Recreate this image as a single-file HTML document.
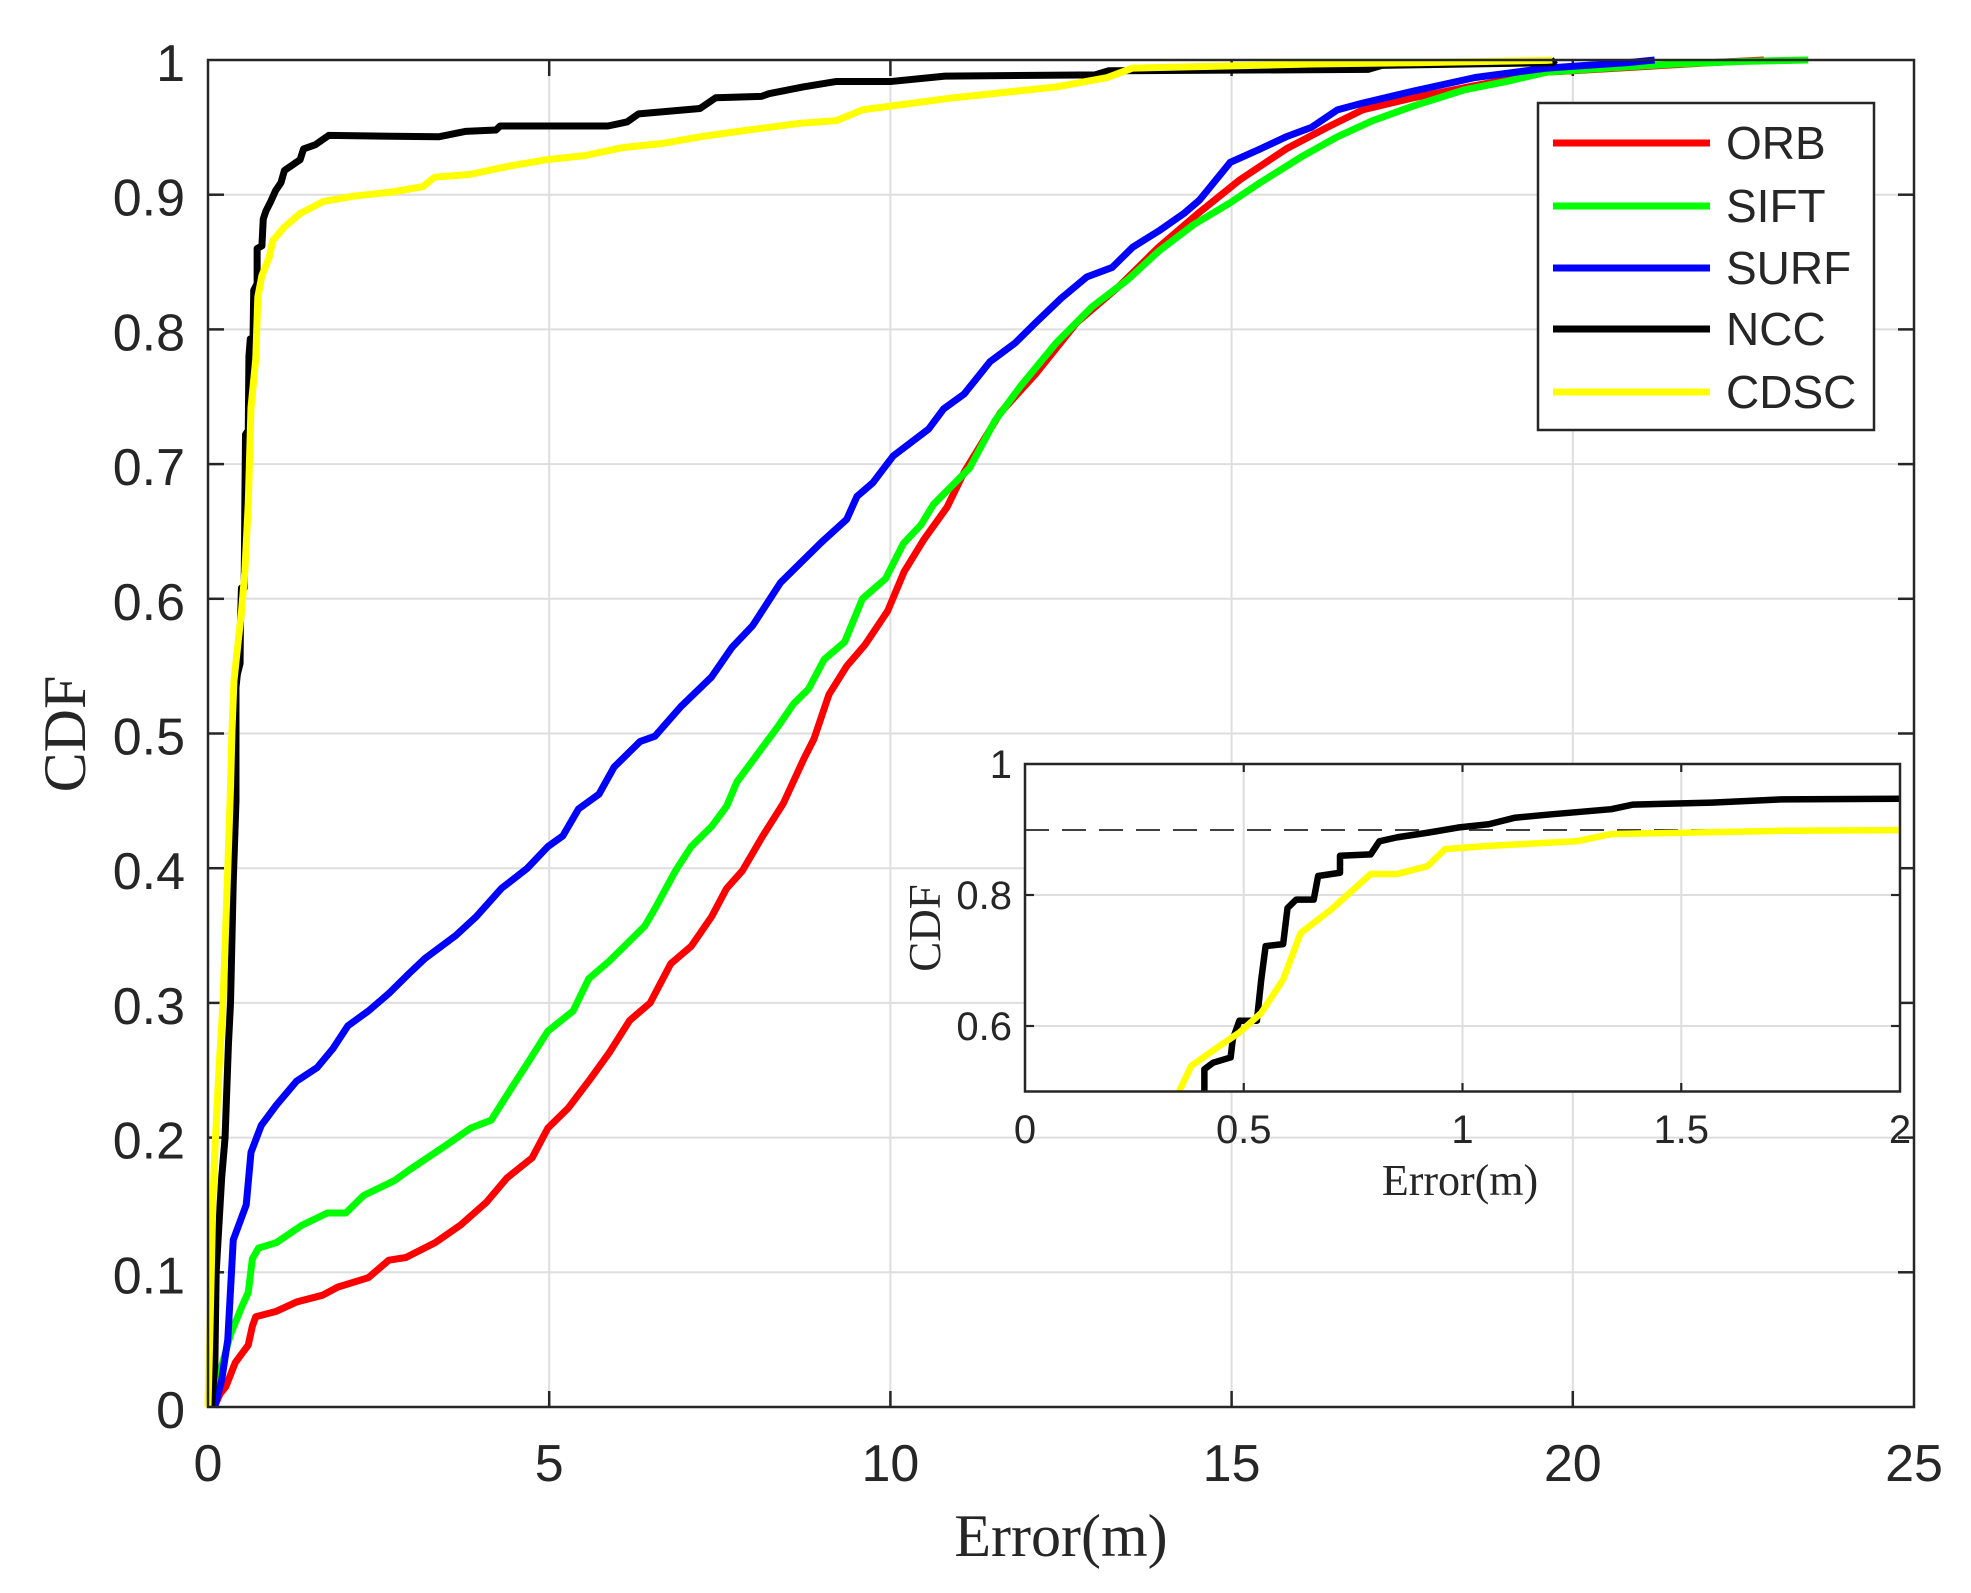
<!DOCTYPE html>
<html>
<head>
<meta charset="utf-8">
<style>
html,body{margin:0;padding:0;background:#fff;}
svg{display:block;}
.tk{font-family:"Liberation Sans",Arial,sans-serif;fill:#262626;}
.sr{font-family:"Liberation Serif","Times New Roman",serif;fill:#262626;}
.c{fill:none;stroke-linejoin:round;stroke-linecap:butt;vector-effect:non-scaling-stroke;}
</style>
</head>
<body>
<svg width="1971" height="1593" viewBox="0 0 1971 1593" xmlns="http://www.w3.org/2000/svg">
<rect x="0" y="0" width="1971" height="1593" fill="#fff"/>
<rect x="208" y="60" width="1706" height="1347" fill="#fff"/>

<!-- main grid -->
<g stroke="#dedede" stroke-width="2">
<line x1="549.2" y1="60" x2="549.2" y2="1407"/>
<line x1="890.4" y1="60" x2="890.4" y2="1407"/>
<line x1="1231.6" y1="60" x2="1231.6" y2="1407"/>
<line x1="1572.8" y1="60" x2="1572.8" y2="1407"/>
<line x1="208" y1="1272.3" x2="1914" y2="1272.3"/>
<line x1="208" y1="1137.6" x2="1914" y2="1137.6"/>
<line x1="208" y1="1002.9" x2="1914" y2="1002.9"/>
<line x1="208" y1="868.2" x2="1914" y2="868.2"/>
<line x1="208" y1="733.5" x2="1914" y2="733.5"/>
<line x1="208" y1="598.8" x2="1914" y2="598.8"/>
<line x1="208" y1="464.1" x2="1914" y2="464.1"/>
<line x1="208" y1="329.4" x2="1914" y2="329.4"/>
<line x1="208" y1="194.7" x2="1914" y2="194.7"/>
</g>

<!-- main ticks -->
<g stroke="#262626" stroke-width="2.5">
<line x1="549.2" y1="1407" x2="549.2" y2="1391"/><line x1="549.2" y1="60" x2="549.2" y2="76"/>
<line x1="890.4" y1="1407" x2="890.4" y2="1391"/><line x1="890.4" y1="60" x2="890.4" y2="76"/>
<line x1="1231.6" y1="1407" x2="1231.6" y2="1391"/><line x1="1231.6" y1="60" x2="1231.6" y2="76"/>
<line x1="1572.8" y1="1407" x2="1572.8" y2="1391"/><line x1="1572.8" y1="60" x2="1572.8" y2="76"/>
<line x1="208" y1="1272.3" x2="224" y2="1272.3"/><line x1="1914" y1="1272.3" x2="1898" y2="1272.3"/>
<line x1="208" y1="1137.6" x2="224" y2="1137.6"/><line x1="1914" y1="1137.6" x2="1898" y2="1137.6"/>
<line x1="208" y1="1002.9" x2="224" y2="1002.9"/><line x1="1914" y1="1002.9" x2="1898" y2="1002.9"/>
<line x1="208" y1="868.2" x2="224" y2="868.2"/><line x1="1914" y1="868.2" x2="1898" y2="868.2"/>
<line x1="208" y1="733.5" x2="224" y2="733.5"/><line x1="1914" y1="733.5" x2="1898" y2="733.5"/>
<line x1="208" y1="598.8" x2="224" y2="598.8"/><line x1="1914" y1="598.8" x2="1898" y2="598.8"/>
<line x1="208" y1="464.1" x2="224" y2="464.1"/><line x1="1914" y1="464.1" x2="1898" y2="464.1"/>
<line x1="208" y1="329.4" x2="224" y2="329.4"/><line x1="1914" y1="329.4" x2="1898" y2="329.4"/>
<line x1="208" y1="194.7" x2="224" y2="194.7"/><line x1="1914" y1="194.7" x2="1898" y2="194.7"/>
</g>

<!-- main curves -->
<g transform="translate(208,1407) scale(68.24,-1347)">
<polyline class="c" stroke="#ff0000" stroke-width="7" points="0.09,0 0.18,0.01 0.26,0.015 0.4,0.033 0.59,0.046 0.65,0.06 0.7,0.067 1.0,0.071 1.3,0.078 1.68,0.083 1.9,0.089 2.35,0.096 2.65,0.109 2.9,0.111 3.33,0.122 3.7,0.135 4.08,0.152 4.38,0.17 4.75,0.185 4.98,0.207 5.28,0.222 5.58,0.242 5.88,0.263 6.18,0.287 6.48,0.3 6.78,0.329 7.08,0.342 7.38,0.364 7.6,0.385 7.83,0.398 8.13,0.424 8.43,0.448 8.73,0.481 8.88,0.496 9.1,0.529 9.36,0.55 9.63,0.566 9.96,0.591 10.2,0.62 10.49,0.644 10.83,0.668 11.08,0.694 11.61,0.738 12.13,0.767 12.73,0.805 13.33,0.831 13.93,0.861 14.53,0.887 15.12,0.911 15.8,0.934 16.4,0.95 16.92,0.963 17.67,0.972 18.57,0.981 19.62,0.991 20,0.992 21,0.995 22,0.998 22.8,1.0"/>
<polyline class="c" stroke="#00ff00" stroke-width="7" points="0.07,0 0.2,0.03 0.33,0.054 0.5,0.075 0.59,0.085 0.65,0.11 0.74,0.118 1.0,0.122 1.38,0.135 1.75,0.144 2.02,0.144 2.28,0.157 2.73,0.168 2.95,0.176 3.48,0.194 3.85,0.207 4.15,0.213 4.45,0.237 4.68,0.255 4.98,0.279 5.35,0.294 5.58,0.318 5.88,0.331 6.4,0.357 6.55,0.37 6.85,0.398 7.08,0.416 7.38,0.431 7.6,0.446 7.75,0.464 8.13,0.49 8.35,0.505 8.58,0.522 8.8,0.533 9.03,0.555 9.33,0.568 9.59,0.6 9.93,0.615 10.19,0.641 10.45,0.655 10.63,0.67 11.16,0.697 11.53,0.732 11.91,0.758 12.43,0.79 12.96,0.817 13.48,0.837 13.93,0.858 14.45,0.878 14.98,0.894 15.42,0.909 16.02,0.928 16.55,0.943 17.07,0.955 17.67,0.966 18.42,0.978 19.02,0.984 19.62,0.991 20.5,0.994 21.5,0.997 22.5,0.999 23.45,1"/>
<polyline class="c" stroke="#0000ff" stroke-width="7" points="0.1,0 0.2,0.02 0.29,0.05 0.37,0.124 0.56,0.15 0.63,0.189 0.78,0.209 1.0,0.224 1.3,0.242 1.6,0.252 1.83,0.266 2.05,0.283 2.35,0.294 2.65,0.307 2.95,0.322 3.18,0.333 3.63,0.35 3.93,0.364 4.3,0.385 4.68,0.4 4.98,0.416 5.2,0.424 5.43,0.444 5.73,0.455 5.95,0.475 6.33,0.494 6.55,0.498 6.93,0.52 7.38,0.542 7.68,0.564 7.98,0.58 8.39,0.612 8.99,0.642 9.36,0.659 9.51,0.676 9.74,0.686 10.04,0.706 10.56,0.726 10.78,0.741 11.08,0.752 11.46,0.776 11.83,0.79 12.13,0.805 12.5,0.823 12.88,0.839 13.25,0.846 13.55,0.861 13.93,0.873 14.3,0.886 14.53,0.896 14.98,0.924 15.42,0.934 15.8,0.943 16.17,0.95 16.55,0.963 16.92,0.968 17.67,0.977 18.57,0.987 19.17,0.991 19.62,0.994 20.2,0.996 20.8,0.998 21.2,1"/>
<polyline class="c" stroke="#000000" stroke-width="7" points="0.05,0 0.1,0.03 0.12,0.1 0.2,0.17 0.25,0.2 0.3,0.27 0.33,0.3 0.37,0.39 0.41,0.45 0.41,0.534 0.43,0.544 0.47,0.552 0.475,0.58 0.49,0.608 0.53,0.608 0.54,0.671 0.55,0.722 0.59,0.725 0.60,0.78 0.62,0.793 0.66,0.793 0.67,0.829 0.72,0.834 0.72,0.86 0.79,0.862 0.81,0.882 0.85,0.888 0.92,0.895 0.99,0.903 1.07,0.909 1.12,0.918 1.35,0.926 1.4,0.934 1.57,0.937 1.77,0.944 3.38,0.943 3.77,0.947 4.22,0.948 4.28,0.951 5.86,0.951 6.14,0.954 6.31,0.96 7.21,0.964 7.44,0.972 8.11,0.973 8.22,0.975 8.72,0.98 9.2,0.984 10.0,0.984 10.8,0.988 13.0,0.989 13.2,0.992 17.0,0.993 17.2,0.996 19.7,0.998 19.75,1"/>
<polyline class="c" stroke="#ffff00" stroke-width="7" points="0,0 0.03,0.06 0.07,0.15 0.1,0.19 0.16,0.25 0.22,0.3 0.29,0.4 0.33,0.46 0.35,0.5 0.38,0.539 0.45,0.572 0.49,0.59 0.54,0.62 0.59,0.671 0.63,0.742 0.7,0.778 0.73,0.824 0.79,0.84 0.9,0.854 0.95,0.866 1.12,0.876 1.35,0.886 1.69,0.895 2.14,0.899 2.7,0.902 3.15,0.906 3.32,0.913 3.83,0.915 4.39,0.921 4.96,0.926 5.52,0.929 6.08,0.935 6.65,0.938 7.21,0.943 7.77,0.947 8.67,0.953 9.21,0.955 9.59,0.963 10.93,0.972 12.43,0.98 13.18,0.987 13.55,0.994 16.17,0.997 17.67,0.998 19.62,0.9997 19.7,1"/>
</g>

<!-- main box -->
<rect x="208" y="60" width="1706" height="1347" fill="none" stroke="#262626" stroke-width="2.5"/>

<!-- main tick labels -->
<g class="tk" font-size="52" text-anchor="end">
<text x="185" y="1428">0</text>
<text x="185" y="1293.3">0.1</text>
<text x="185" y="1158.6">0.2</text>
<text x="185" y="1023.9">0.3</text>
<text x="185" y="889.2">0.4</text>
<text x="185" y="754.5">0.5</text>
<text x="185" y="619.8">0.6</text>
<text x="185" y="485.1">0.7</text>
<text x="185" y="350.4">0.8</text>
<text x="185" y="215.7">0.9</text>
<text x="185" y="81">1</text>
</g>
<g class="tk" font-size="52" text-anchor="middle">
<text x="208" y="1481">0</text>
<text x="549.2" y="1481">5</text>
<text x="890.4" y="1481">10</text>
<text x="1231.6" y="1481">15</text>
<text x="1572.8" y="1481">20</text>
<text x="1914" y="1481">25</text>
</g>
<text class="sr" x="1061" y="1556" font-size="60" text-anchor="middle">Error(m)</text>
<text class="sr" x="0" y="0" font-size="60" text-anchor="middle" transform="translate(85,734) rotate(-90)">CDF</text>

<!-- legend -->
<rect x="1538" y="103" width="336" height="327" fill="#fff" stroke="#262626" stroke-width="2.5"/>
<g stroke-width="7">
<line x1="1553" y1="143" x2="1710" y2="143" stroke="#ff0000"/>
<line x1="1553" y1="206" x2="1710" y2="206" stroke="#00ff00"/>
<line x1="1553" y1="268" x2="1710" y2="268" stroke="#0000ff"/>
<line x1="1553" y1="329" x2="1710" y2="329" stroke="#000000"/>
<line x1="1553" y1="392" x2="1710" y2="392" stroke="#ffff00"/>
</g>
<g class="tk" font-size="46">
<text x="1726" y="159">ORB</text>
<text x="1726" y="222">SIFT</text>
<text x="1726" y="284">SURF</text>
<text x="1726" y="345">NCC</text>
<text x="1726" y="408">CDSC</text>
</g>

<!-- inset -->
<defs>
<clipPath id="ic" clipPathUnits="userSpaceOnUse"><rect x="1025" y="764" width="875" height="327.5"/></clipPath>
</defs>
<rect x="1025" y="764" width="875" height="327.5" fill="#fff"/>
<g stroke="#dedede" stroke-width="2">
<line x1="1243.75" y1="764" x2="1243.75" y2="1091.5"/>
<line x1="1462.5" y1="764" x2="1462.5" y2="1091.5"/>
<line x1="1681.25" y1="764" x2="1681.25" y2="1091.5"/>
<line x1="1025" y1="895" x2="1900" y2="895"/>
<line x1="1025" y1="1026" x2="1900" y2="1026"/>
</g>
<g stroke="#262626" stroke-width="2.2">
<line x1="1243.75" y1="1091.5" x2="1243.75" y2="1083"/><line x1="1243.75" y1="764" x2="1243.75" y2="772"/>
<line x1="1462.5" y1="1091.5" x2="1462.5" y2="1083"/><line x1="1462.5" y1="764" x2="1462.5" y2="772"/>
<line x1="1681.25" y1="1091.5" x2="1681.25" y2="1083"/><line x1="1681.25" y1="764" x2="1681.25" y2="772"/>
<line x1="1025" y1="895" x2="1034" y2="895"/><line x1="1900" y1="895" x2="1891" y2="895"/>
<line x1="1025" y1="1026" x2="1034" y2="1026"/><line x1="1900" y1="1026" x2="1891" y2="1026"/>
</g>
<line x1="1025" y1="830" x2="1900" y2="830" stroke="#404040" stroke-width="2" stroke-dasharray="24 13"/>
<g clip-path="url(#ic)">
<g transform="translate(1025,1419) scale(437.5,-655)">
<polyline class="c" stroke="#000000" stroke-width="6.5" points="0.41,0.48 0.41,0.534 0.43,0.544 0.47,0.552 0.475,0.58 0.49,0.608 0.53,0.608 0.54,0.671 0.55,0.722 0.59,0.725 0.60,0.78 0.62,0.793 0.66,0.793 0.67,0.829 0.72,0.834 0.72,0.86 0.79,0.862 0.81,0.882 0.85,0.888 0.92,0.895 0.99,0.903 1.06,0.908 1.12,0.918 1.2,0.923 1.34,0.931 1.39,0.938 1.57,0.941 1.73,0.946 2.0,0.947 2.1,0.947"/>
<polyline class="c" stroke="#ffff00" stroke-width="6.5" points="0.345,0.48 0.35,0.497 0.38,0.539 0.45,0.572 0.49,0.59 0.54,0.62 0.59,0.671 0.63,0.742 0.7,0.778 0.79,0.832 0.85,0.832 0.92,0.844 0.96,0.87 1.06,0.875 1.26,0.882 1.34,0.893 1.73,0.898 2.0,0.899 2.1,0.899"/>
</g>
</g>
<rect x="1025" y="764" width="875" height="327.5" fill="none" stroke="#262626" stroke-width="2.5"/>
<g class="tk" font-size="40" text-anchor="end">
<text x="1012" y="778">1</text>
<text x="1012" y="909">0.8</text>
<text x="1012" y="1040">0.6</text>
</g>
<g class="tk" font-size="40" text-anchor="middle">
<text x="1025" y="1143">0</text>
<text x="1243.75" y="1143">0.5</text>
<text x="1462.5" y="1143">1</text>
<text x="1681.25" y="1143">1.5</text>
<text x="1900" y="1143">2</text>
</g>
<text class="sr" x="1460" y="1195" font-size="44" text-anchor="middle">Error(m)</text>
<text class="sr" x="0" y="0" font-size="45" text-anchor="middle" transform="translate(940,928) rotate(-90)">CDF</text>
</svg>
</body>
</html>
